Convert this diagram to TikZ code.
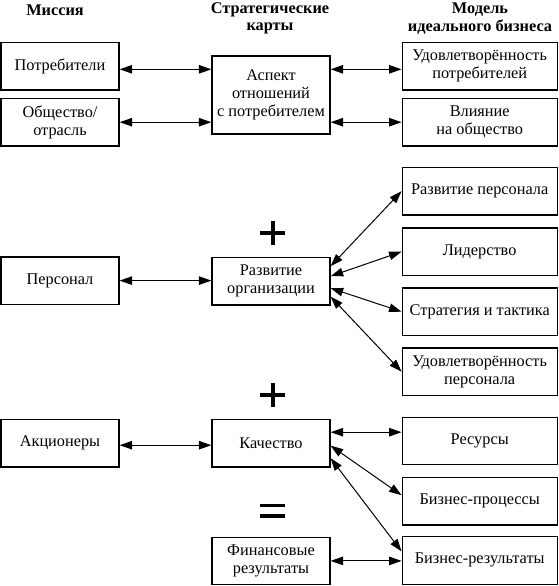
\documentclass[tikz,border=0pt]{standalone}
\usepackage{fontspec}
\setmainfont{Liberation Serif}
\usetikzlibrary{arrows.meta}
\begin{document}
\begin{tikzpicture}[x=1pt,y=-1pt,
  every node/.style={font=\fontsize{16.3}{18}\selectfont},
  box/.style={draw, line width=1.3pt, inner sep=0pt, align=center, minimum height=47.5pt},
  lbox/.style={box, minimum width=118pt},
  mbox/.style={box, minimum width=118pt},
  rbox/.style={box, minimum width=155pt},
  head/.style={align=center, font=\fontsize{16.3}{17.5}\selectfont\bfseries},
  biarrow/.style={line width=1pt, {Triangle[length=12.5pt,width=8.5pt]}-{Triangle[length=12.5pt,width=8.5pt]}},
  sym/.style={line width=3.8pt}
]
\useasboundingbox (0,0) rectangle (559,586);
% headers
\node[head] (h1) at (55,10) {Миссия};
\node[head] (h2) at (270,18.5) {Стратегические\\карты};
\node[head] (h3) at (480,18.5) {Модель\\идеального бизнеса};
% left column
\node[lbox] (potr) at (60,66.3) {Потребители};
\node[lbox] (obsh) at (60,122.2) {Общество/\\отрасль};
\node[lbox] (pers) at (60,280.6) {Персонал};
\node[lbox] (akc) at (60,443.2) {Акционеры};
% middle column
\node[mbox, minimum height=78pt] (asp) at (271,94.9) {Аспект\\отношений\\с потребителем};
\node[mbox] (razv) at (271,281.2) {Развитие\\организации};
\node[mbox] (kach) at (271,443.2) {Качество};
\node[mbox] (fin) at (271,560.9) {Финансовые\\результаты};
% right column
\node[rbox] (udp) at (479.7,66.3) {Удовлетворённость\\потребителей};
\node[rbox] (vl) at (479.7,122.2) {Влияние\\на общество};
\node[rbox] (rp) at (479.7,191.2) {Развитие персонала};
\node[rbox] (lid) at (479.7,251.7) {Лидерство};
\node[rbox] (str) at (479.7,311.7) {Стратегия и тактика};
\node[rbox] (uds) at (479.7,371.7) {Удовлетворённость\\персонала};
\node[rbox] (res) at (479.7,440.9) {Ресурсы};
\node[rbox] (bp) at (479.7,501.2) {Бизнес-процессы};
\node[rbox] (br) at (479.7,560.4) {Бизнес-результаты};
% top connectors
\draw[biarrow] ([yshift=-3pt]potr.east) -- ([yshift=-3pt]potr.east -| asp.west);
\draw[biarrow] (obsh.east) -- (obsh.east -| asp.west);
\draw[biarrow] ([yshift=-3pt]udp.west -| asp.east) -- ([yshift=-3pt]udp.west);
\draw[biarrow] (vl.west -| asp.east) -- (vl.west);
% middle connectors
\draw[biarrow] (pers.east) -- (pers.east -| razv.west);
\draw[biarrow] ([yshift=15pt]razv.east) -- (rp.west);
\draw[biarrow] ([yshift=5pt]razv.east) -- (lid.west);
\draw[biarrow] ([yshift=-7pt]razv.east) -- (str.west);
\draw[biarrow] ([yshift=-15.5pt]razv.east) -- (uds.west);
% bottom connectors
\draw[biarrow] ([yshift=-2pt]akc.east) -- ([yshift=-2pt]akc.east -| kach.west);
\draw[biarrow] ([yshift=11pt]kach.east) -- ([yshift=11pt]kach.east -| res.west);
\draw[biarrow] ([yshift=-2.5pt]kach.east) -- ([yshift=6pt]bp.west);
\draw[biarrow] ([yshift=-15pt]kach.east) -- ([yshift=9pt]br.west);
\draw[biarrow] (fin.east) -- (fin.east -| br.west);
% plus and equals signs
\draw[sym] (260.2,232.7) -- (285.2,232.7) (272.7,220.5) -- (272.7,245);
\draw[sym] (260.2,395) -- (285.2,395) (272.7,383) -- (272.7,407);
\draw[sym] (260.2,505.5) -- (285.2,505.5) (260.2,516) -- (285.2,516);
\end{tikzpicture}
\end{document}
